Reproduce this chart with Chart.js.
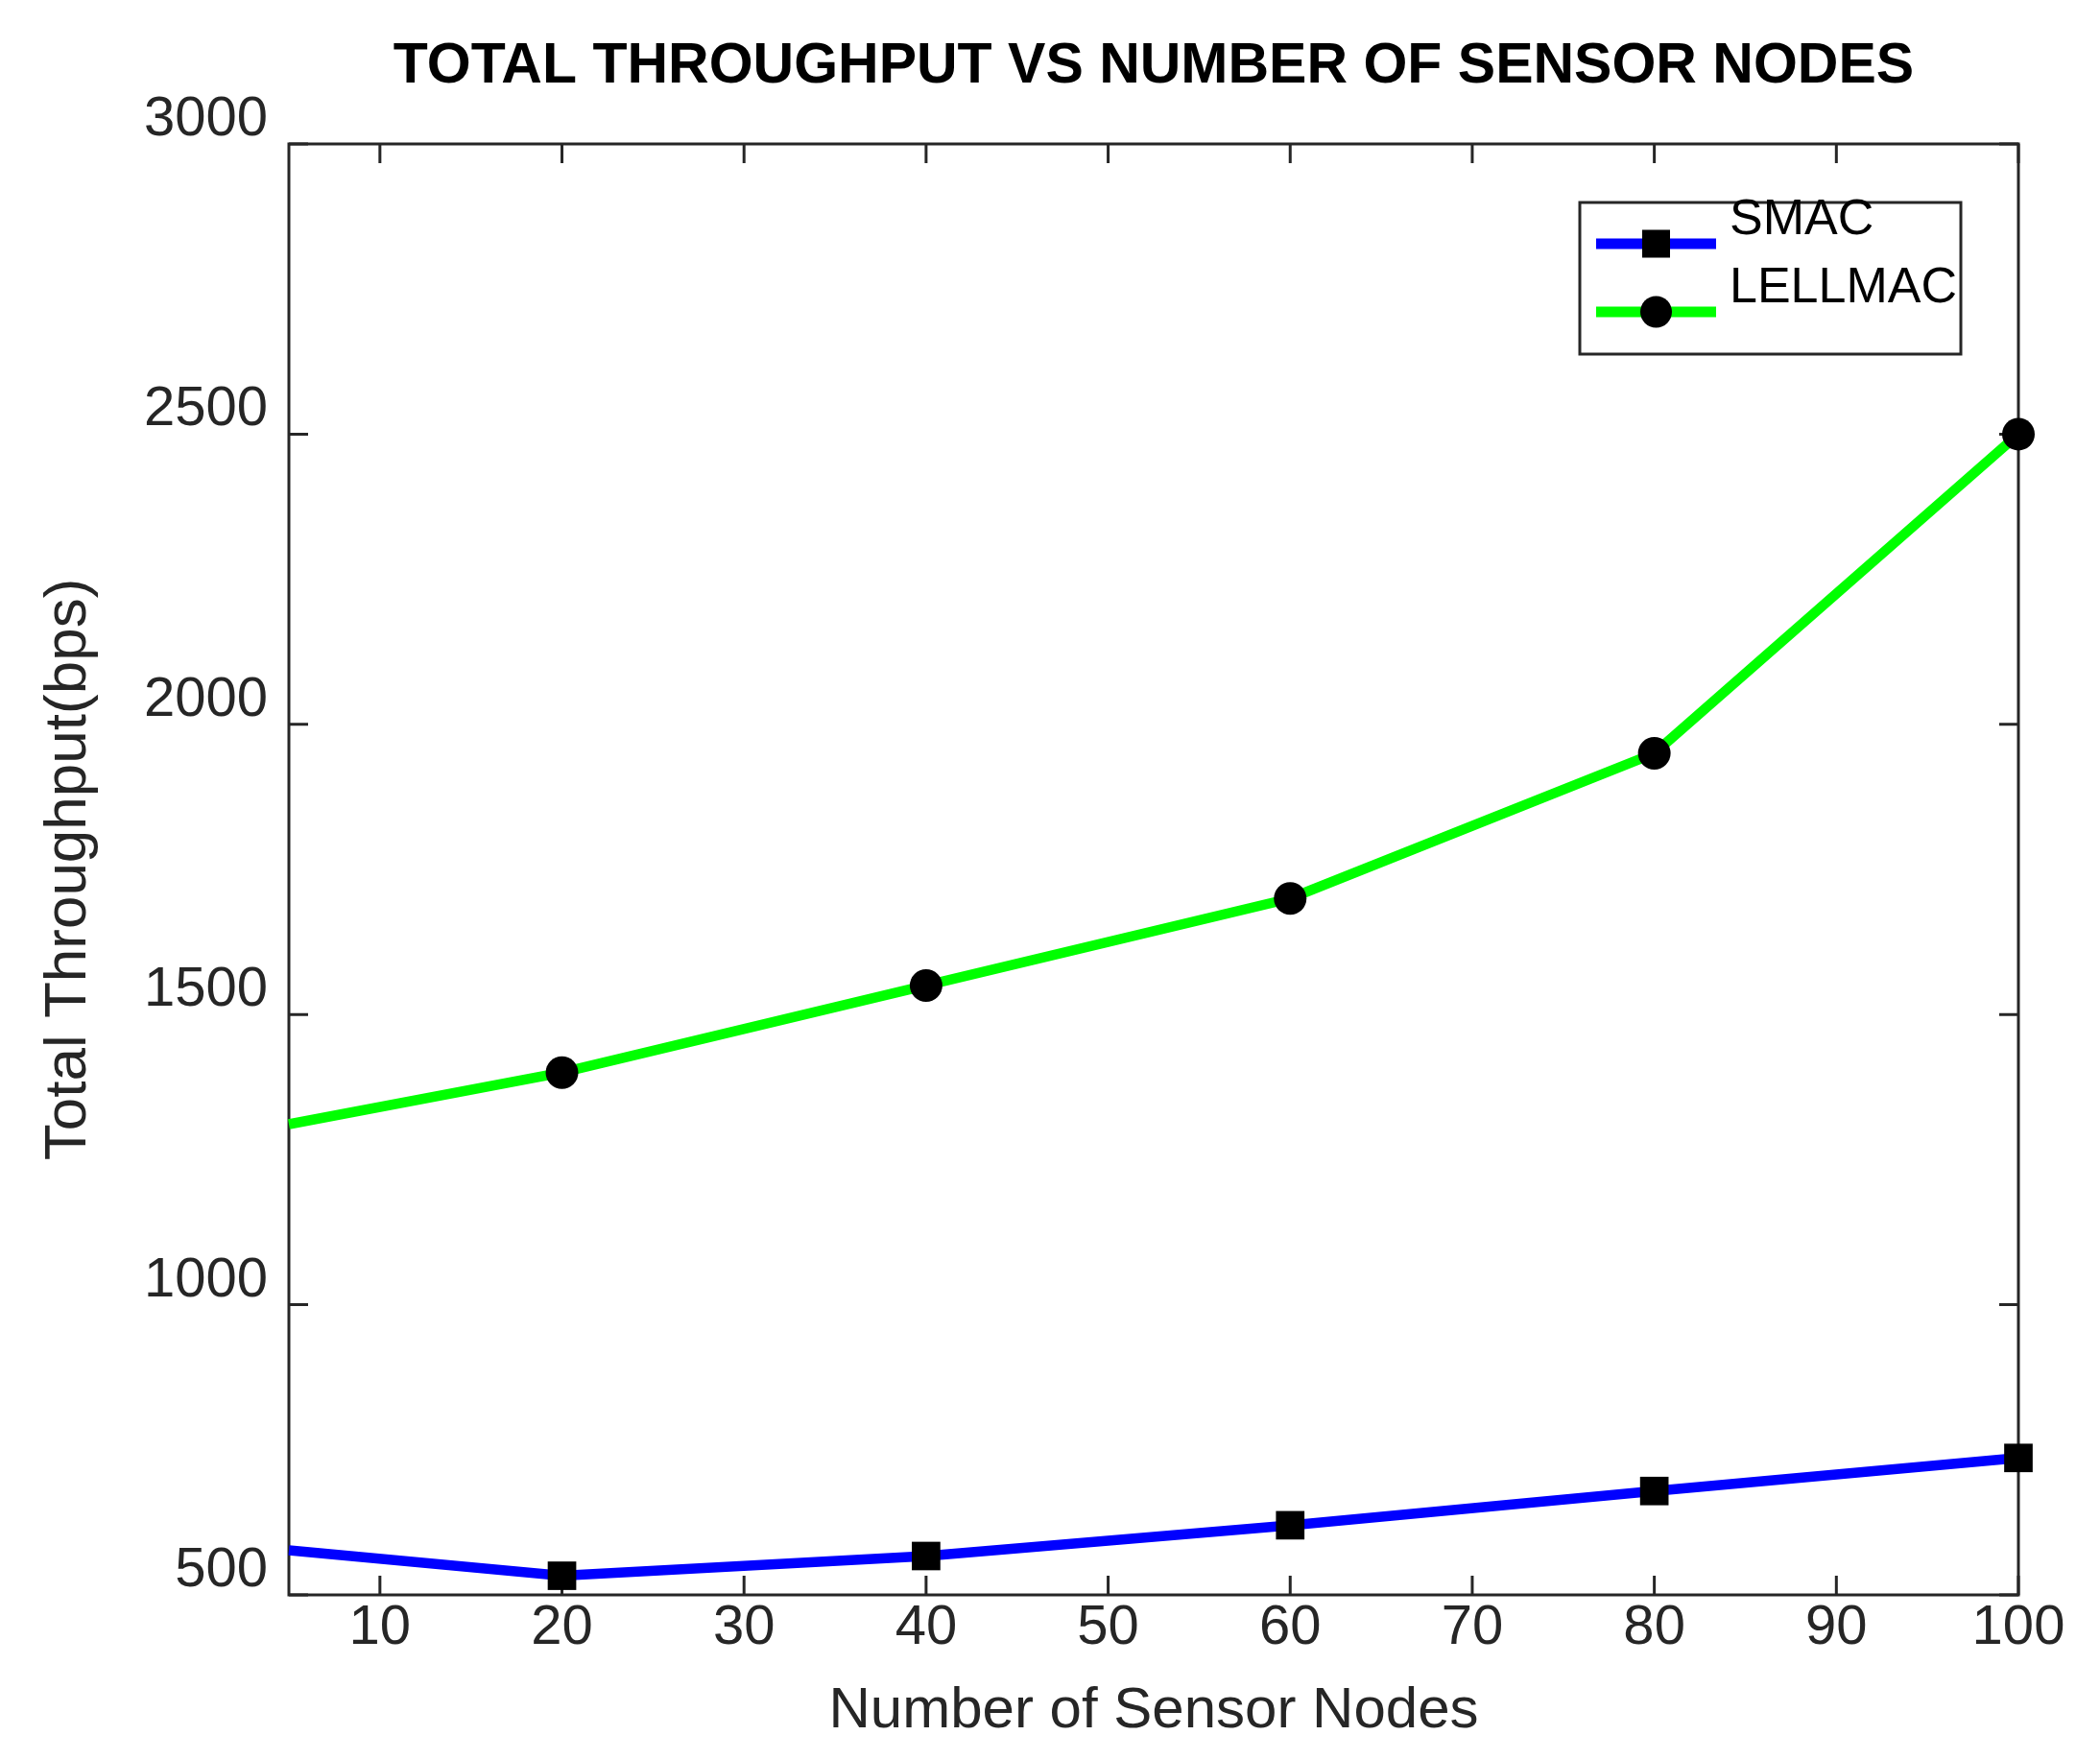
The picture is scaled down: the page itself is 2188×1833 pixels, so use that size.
<!DOCTYPE html>
<html>
<head>
<meta charset="utf-8">
<title>Total Throughput vs Number of Sensor Nodes</title>
<script src="https://cdn.jsdelivr.net/npm/chart.js@4.4.1/dist/chart.umd.min.js"></script>
<style>
    html, body { margin: 0; padding: 0; background: #ffffff; overflow: hidden; }
    #wrap { width: 2188px; height: 1833px; position: relative; }
</style>
</head>
<body>
<div id="wrap"><canvas id="throughputChart"></canvas></div>
<script>
// values
const nodeCounts = [5, 20, 40, 60, 80, 100];
const smacValues = [577, 533, 567, 620, 679, 736];
const lellmacValues = [1311, 1400, 1550, 1700, 1950, 2500];
const xTickValues = [10, 20, 30, 40, 50, 60, 70, 80, 90, 100];
const yTickValues = [500, 1000, 1500, 2000, 2500, 3000];
const seriesNames = ['SMAC', 'LELLMAC'];

const FONT = '"Liberation Sans", Arial, Helvetica, sans-serif';
const AXIS_COLOR = '#262626';

// the first sample sits outside the plotted range, so no marker there
const markerSizes = (r) => nodeCounts.map((x, i) => (i === 0 ? 0 : r));

function toPoints(values) {
    return nodeCounts.map((x, i) => ({ x: x, y: values[i] }));
}

// box around the plot with inward ticks on all four sides (MATLAB style)
const boxAxes = {
    id: 'boxAxes',
    beforeDatasetsDraw(chart) {
        const { ctx, chartArea: a, scales } = chart;
        const len = 20;
        ctx.save();
        ctx.strokeStyle = AXIS_COLOR;
        ctx.lineWidth = 3;
        ctx.beginPath();
        xTickValues.forEach(v => {
            const px = scales.x.getPixelForValue(v);
            ctx.moveTo(px, a.bottom); ctx.lineTo(px, a.bottom - len);
            ctx.moveTo(px, a.top); ctx.lineTo(px, a.top + len);
        });
        yTickValues.forEach(v => {
            const py = scales.y.getPixelForValue(v);
            ctx.moveTo(a.left, py); ctx.lineTo(a.left + len, py);
            ctx.moveTo(a.right, py); ctx.lineTo(a.right - len, py);
        });
        ctx.stroke();
        ctx.strokeRect(a.left, a.top, a.right - a.left, a.bottom - a.top);
        ctx.restore();
    }
};

// legend box in the upper right corner of the plot
const boxLegend = {
    id: 'boxLegend',
    afterDatasetsDraw(chart) {
        const { ctx, chartArea: a } = chart;
        const bx = a.right - 457, by = a.top + 61, bw = 397, bh = 158;
        ctx.save();
        ctx.fillStyle = '#ffffff';
        ctx.fillRect(bx, by, bw, bh);
        ctx.strokeStyle = AXIS_COLOR;
        ctx.lineWidth = 3;
        ctx.strokeRect(bx, by, bw, bh);

        chart.data.datasets.forEach((ds, i) => {
            const ly = by + 43 + i * 71;
            const x0 = bx + 17, x1 = bx + 142;
            ctx.strokeStyle = ds.borderColor;
            ctx.lineWidth = 11;
            ctx.beginPath();
            ctx.moveTo(x0, ly);
            ctx.lineTo(x1, ly);
            ctx.stroke();

            const cx = (x0 + x1) / 2;
            ctx.fillStyle = '#000000';
            if (ds.pointStyle === 'rect') {
                ctx.fillRect(cx - 14.5, ly - 14.5, 29, 29);
            } else {
                ctx.beginPath();
                ctx.arc(cx, ly, 16.5, 0, Math.PI * 2);
                ctx.fill();
            }

            ctx.fillStyle = '#000000';
            ctx.font = '52px ' + FONT;
            ctx.textAlign = 'left';
            ctx.textBaseline = 'alphabetic';
            ctx.fillText(ds.label, bx + 156, ly - 10);
        });
        ctx.restore();
    }
};

const ctx = document.getElementById('throughputChart').getContext('2d');

new Chart(ctx, {
    type: 'line',
    data: {
        datasets: [
            {
                label: seriesNames[0],
                data: toPoints(smacValues),
                borderColor: '#0000ff',
                borderWidth: 10.5,
                pointStyle: 'rect',
                pointRadius: markerSizes(21),
                pointBackgroundColor: '#000000',
                pointBorderWidth: 0,
                tension: 0,
                clip: false
            },
            {
                label: seriesNames[1],
                data: toPoints(lellmacValues),
                borderColor: '#00ff00',
                borderWidth: 10.5,
                pointStyle: 'circle',
                pointRadius: markerSizes(17),
                pointBackgroundColor: '#000000',
                pointBorderWidth: 0,
                tension: 0,
                clip: false
            }
        ]
    },
    options: {
        responsive: true,
        maintainAspectRatio: false,
        animation: false,
        layout: {
            padding: { left: 0, right: 85, top: 0, bottom: 0 }
        },
        plugins: {
            legend: { display: false },
            tooltip: { enabled: false },
            title: {
                display: true,
                fullSize: false,
                text: 'TOTAL THROUGHPUT VS NUMBER OF SENSOR NODES',
                color: '#000000',
                font: { family: FONT, size: 59, weight: 'bold', lineHeight: 1.2 },
                padding: { top: 34, bottom: 45.2 }
            }
        },
        scales: {
            x: {
                type: 'linear',
                min: 5,
                max: 100,
                grid: { display: false },
                border: { display: false },
                afterBuildTicks: (scale) => {
                    scale.ticks = xTickValues.map(v => ({ value: v }));
                },
                afterFit: (scale) => { scale.height = 171; },
                ticks: {
                    color: AXIS_COLOR,
                    font: { family: FONT, size: 58 },
                    padding: -8,
                    maxRotation: 0,
                    autoSkip: false
                },
                title: {
                    display: true,
                    text: 'Number of Sensor Nodes',
                    color: AXIS_COLOR,
                    font: { family: FONT, size: 60, lineHeight: 1.2 },
                    padding: { top: 0, bottom: 14 }
                }
            },
            y: {
                type: 'linear',
                min: 500,
                max: 3000,
                grid: { display: false },
                border: { display: false },
                afterBuildTicks: (scale) => {
                    scale.ticks = yTickValues.map(v => ({ value: v }));
                },
                afterFit: (scale) => { scale.width = 301; },
                ticks: {
                    color: AXIS_COLOR,
                    font: { family: FONT, size: 58 },
                    padding: 14,
                    labelOffset: -25,
                    autoSkip: false,
                    callback: (v) => String(v)
                },
                title: {
                    display: true,
                    text: 'Total Throughput(bps)',
                    color: AXIS_COLOR,
                    font: { family: FONT, size: 62, lineHeight: 1.2 },
                    padding: { top: 35, bottom: 0 }
                }
            }
        }
    },
    plugins: [boxAxes, boxLegend]
});
</script>
</body>
</html>
